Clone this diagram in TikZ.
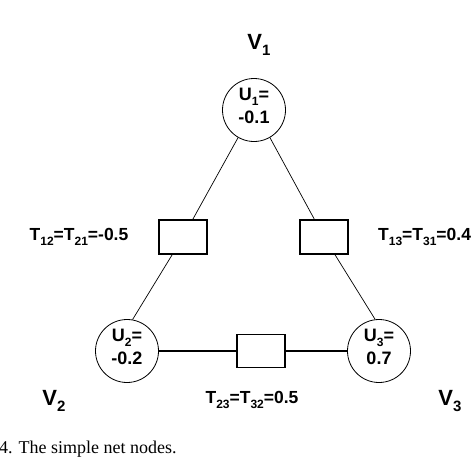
\documentclass[tikz,border=0pt]{standalone}
\usepackage{fontspec}
\setmainfont{Liberation Serif}
\newfontfamily\arialf{Liberation Sans}
\newcommand\lsub[1]{\raisebox{-0.5ex}{\fontsize{12}{12}\selectfont #1}}
\newcommand\vsub[1]{\raisebox{-0.5ex}{\fontsize{15}{15}\selectfont #1}}
\begin{document}
\begin{tikzpicture}[x=1pt,y=-1pt,
  vnode/.style={circle, draw, line width=0.8pt, minimum size=63pt, inner sep=0pt},
  utext/.style={align=center, inner sep=0pt, font=\arialf\bfseries\fontsize{18}{23}\selectfont},
  tbox/.style={rectangle, draw, line width=1.2pt, minimum width=48pt, minimum height=34pt, inner sep=0pt},
  lbl/.style={font=\arialf\bfseries\fontsize{17.5}{19}\selectfont, inner sep=0pt},
  vlbl/.style={font=\arialf\bfseries\fontsize{22}{24}\selectfont, inner sep=0pt},
  captext/.style={font=\fontsize{18}{20}\selectfont, inner sep=0pt},
  diag/.style={line width=0.7pt},
  hor/.style={line width=1.1pt}]
\useasboundingbox (0,0) rectangle (474,467);
% circles
\node[vnode] (u1) at (254,110) {};
\node[vnode] (u2) at (127,351) {};
\node[vnode] (u3) at (379,351) {};
\node[utext] (t1) at ([yshift=4pt]u1.center) {U\lsub{1}=\\-0.1};
\node[utext] (t2) at ([yshift=4pt]u2.center) {U\lsub{2}=\\-0.2};
\node[utext] (t3) at ([yshift=4pt]u3.center) {U\lsub{3}=\\0.7};
% boxes
\node[tbox] (b12) at (183,237) {};
\node[tbox] (b13) at (324,237) {};
\node[tbox, minimum height=33pt] (b23) at (261,351) {};
% connectors
\draw[diag] (u1.240) -- (b12);
\draw[diag] (b12) -- (u2.80);
\draw[diag] (u1.300) -- (b13);
\draw[diag] (b13) -- (u3.97);
\draw[hor] (u2) -- (b23);
\draw[hor] (b23) -- (u3);
% labels
\node[vlbl] (v1) at (259,45) {V\vsub{1}};
\node[vlbl] (v2) at (54,401) {V\vsub{2}};
\node[vlbl] (v3) at (450,401) {V\vsub{3}};
\node[lbl] (l12) at (79,237) {T\lsub{12}=T\lsub{21}=-0.5};
\node[lbl, anchor=west] (l13) at (378,237) {T\lsub{13}=T\lsub{31}=0.4};
\node[lbl] (l23) at (252,400) {T\lsub{23}=T\lsub{32}=0.5};
\node[captext, anchor=west] (caption) at (-1,449) {4. The simple net nodes.};
\end{tikzpicture}
\end{document}
